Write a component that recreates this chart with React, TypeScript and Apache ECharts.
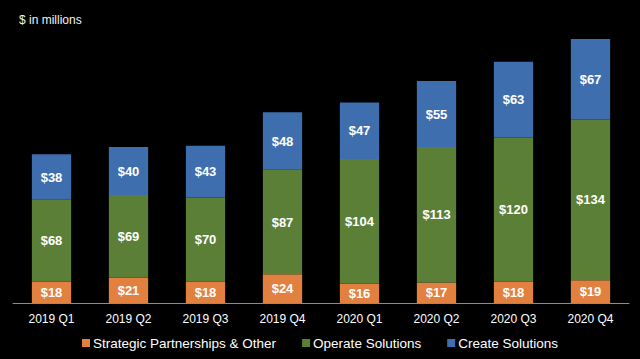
import React, { useEffect, useRef } from "react";
import * as echarts from "echarts";

const categories = ["2019 Q1", "2019 Q2", "2019 Q3", "2019 Q4", "2020 Q1", "2020 Q2", "2020 Q3", "2020 Q4"];
const strategic = [18, 21, 18, 24, 16, 17, 18, 19];
const operate = [68, 69, 70, 87, 104, 113, 120, 134];
const create = [38, 40, 43, 48, 47, 55, 63, 67];
const totals = [123, 129, 131, 158, 167, 184, 201, 220];

export default function App() {
  const ref = useRef<HTMLDivElement>(null);
  useEffect(() => {
    const chart = echarts.init(ref.current!, null, { renderer: "svg" });
    const font = "Liberation Sans, Arial, sans-serif";
    const inner = {
      show: true,
      position: "inside" as const,
      color: "#ffffff",
      fontWeight: "bold" as const,
      fontSize: 13,
      fontFamily: font,
      formatter: (p: any) => "$" + p.value,
    };
    chart.setOption({
      animation: false,
      backgroundColor: "#000000",
      title: {
        text: "$ in millions",
        left: 14,
        top: 9,
        textStyle: { color: "#f2f2f2", fontSize: 12, fontWeight: "normal", fontFamily: font },
      },
      legend: {
        bottom: 4,
        left: "center",
        itemWidth: 8,
        itemHeight: 8,
        itemGap: 26,
        icon: "rect",
        textStyle: { color: "#ffffff", fontSize: 13.5, fontFamily: font, padding: [0, 0, 0, -2] },
        data: ["Strategic Partnerships & Other", "Operate Solutions", "Create Solutions"],
      },
      grid: { left: 13, right: 11, top: 15, bottom: 56 },
      xAxis: {
        type: "category",
        data: categories,
        axisLine: { lineStyle: { color: "#8c8c8c", width: 1 } },
        axisTick: { show: false },
        axisLabel: { color: "#ffffff", fontSize: 12, fontFamily: font, margin: 10 },
      },
      yAxis: {
        type: "value",
        min: 0,
        max: 240,
        show: false,
        splitLine: { show: false },
      },
      series: [
        {
          name: "Strategic Partnerships & Other",
          type: "bar",
          stack: "a",
          data: strategic,
          barWidth: "51%",
          itemStyle: { color: "#E2803F" },
          label: inner,
        },
        {
          name: "Operate Solutions",
          type: "bar",
          stack: "a",
          data: operate,
          itemStyle: { color: "#5C7F38" },
          label: inner,
        },
        {
          name: "Create Solutions",
          type: "bar",
          stack: "a",
          data: create,
          itemStyle: { color: "#3F6EAE" },
          label: inner,
        },
        {
          name: "Total",
          type: "line",
          data: totals,
          symbol: "none",
          lineStyle: { opacity: 0 },
          silent: true,
          label: {
            show: true,
            position: "top",
            distance: 7,
            color: "#ffffff",
            fontWeight: "bold",
            fontSize: 12,
            fontFamily: font,
            formatter: (p: any) => "$" + p.value,
          },
        },
      ],
    });
    return () => chart.dispose();
  }, []);
  return <div ref={ref} style={{ position: "fixed", left: 0, top: 0, width: 640, height: 359 }} />;
}
